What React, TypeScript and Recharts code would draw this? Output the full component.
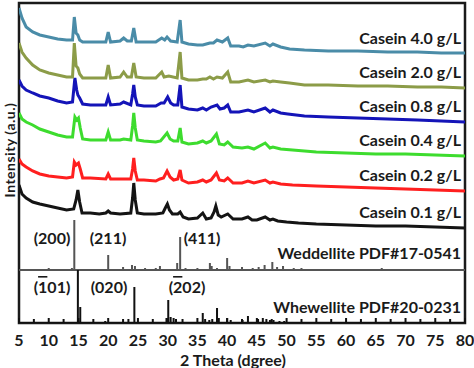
import { LineChart, Line, XAxis, YAxis, ReferenceArea, ReferenceLine } from "recharts"

// XRD patterns: [2theta, intensity above the pattern's own baseline]
const CASEIN_01: [number, number][] = [
  [5, 43], [5.5, 34], [6.2, 30], [7.3, 26], [8.5, 24], [10, 22], [11.5, 20], [13, 18], [14.2, 19], [14.6, 28],
  [14.9, 38], [15.2, 26], [15.6, 15], [17, 15], [18.5, 14], [19.6, 15], [20, 17], [20.4, 15], [22, 14], [23.8, 15],
  [24.1, 30], [24.3, 45], [24.55, 28], [24.9, 15], [26, 14], [28, 14], [29.2, 15], [29.6, 20], [29.95, 24], [30.3, 18],
  [30.8, 14], [31.7, 14], [32.1, 16], [32.6, 11], [33.5, 9], [35, 10], [35.9, 15], [36.5, 9], [37.3, 10], [37.8, 16],
  [38.1, 22], [38.5, 13], [39, 11], [40.1, 14], [41, 9], [42.5, 9], [43.5, 11], [44.2, 8], [45, 8], [46.4, 11],
  [47.2, 8], [47.7, 9], [48.5, 7], [50, 6], [52, 5], [55, 4], [60, 3], [65, 2], [70, 2], [75, 1], [80, 0],
]
const CASEIN_02: [number, number][] = [
  [5, 32], [5.5, 27], [6.2, 24], [7.3, 20], [8.5, 17], [10, 15], [11.5, 14], [13, 13], [14, 14], [14.3, 29],
  [14.6, 26], [15, 28], [15.3, 22], [15.7, 13], [17, 13], [19.6, 12], [20, 17], [20.4, 12], [22, 12], [23.8, 12],
  [24.1, 22], [24.3, 33], [24.55, 20], [24.9, 11], [26, 11], [28, 10], [28.7, 12], [29.3, 13], [29.9, 20], [30.4, 14],
  [31, 11], [31.7, 12], [32.1, 21], [32.4, 11], [33.5, 8], [35, 9], [35.9, 11], [36.5, 9], [37.3, 11], [38.2, 18],
  [38.7, 11], [39.5, 10], [40.1, 13], [41, 8], [42.5, 8], [43.5, 10], [44.5, 8], [46.4, 11], [47.2, 8], [47.7, 9],
  [49, 7], [51, 6], [55, 5], [60, 4], [65, 3], [70, 2], [75, 1], [80, 0],
]
const CASEIN_04: [number, number][] = [
  [5, 43], [5.5, 37], [6.2, 34], [7.3, 31], [8.5, 27], [10, 24], [11.5, 21], [13, 19], [14, 19], [14.4, 39],
  [14.7, 36], [15, 38], [15.3, 28], [15.7, 17], [17, 16], [19.6, 16], [20, 24], [20.4, 16], [22, 16], [22.6, 17],
  [23.8, 16], [24.1, 30], [24.3, 43], [24.55, 28], [24.9, 16], [26, 15], [28, 14], [28.8, 15], [29.9, 23], [30.4, 17],
  [31, 15], [31.7, 15], [32.1, 28], [32.4, 14], [33.5, 12], [35, 13], [35.9, 15], [36.5, 13], [37.3, 15], [38.2, 22],
  [38.7, 12], [39.5, 11], [40.1, 14], [41, 9], [42.5, 8], [43.5, 9], [44.5, 7], [46.4, 13], [47.2, 8], [47.7, 9],
  [49, 7], [51, 6], [55, 4], [60, 3], [65, 2], [70, 2], [75, 1], [80, 0],
]
const CASEIN_08: [number, number][] = [
  [5, 42], [5.5, 36], [6.2, 32], [7.3, 29], [8.5, 26], [10, 24], [11.5, 21], [13, 19], [14, 20], [14.4, 44],
  [14.7, 32], [14.9, 27], [15.2, 24], [15.7, 18], [17, 17], [19.6, 17], [20, 25], [20.4, 17], [22, 18], [22.6, 20],
  [23.8, 17], [24.1, 28], [24.3, 37], [24.55, 25], [24.9, 17], [26, 16], [28, 16], [28.9, 19], [29.4, 19], [30, 25],
  [30.5, 19], [31, 17], [31.7, 17], [32.1, 37], [32.4, 15], [33.5, 13], [35, 12], [35.9, 14], [36.5, 12], [37.3, 15],
  [38.3, 17], [38.8, 13], [39.5, 14], [40.1, 17], [40.6, 10], [42, 10], [43.5, 12], [44.5, 10], [46.4, 14], [47.2, 10],
  [47.7, 12], [49, 9], [50.2, 8], [53, 6], [57, 5], [62, 4], [67, 3], [72, 2], [76, 1], [80, 0],
]
const CASEIN_20: [number, number][] = [
  [5, 45], [5.5, 36], [6.2, 30], [7.3, 23], [8.5, 18], [10, 15], [11.5, 13], [13, 11], [14, 11], [14.3, 45],
  [14.6, 22], [14.9, 20], [15.2, 14], [15.7, 10], [17, 10], [19.6, 10], [20, 23], [20.4, 10], [22, 11], [22.6, 16],
  [23.2, 11], [23.9, 11], [24.3, 25], [24.7, 11], [26, 10], [28, 10], [29, 16], [29.4, 11], [30.2, 12], [31.6, 10],
  [32.1, 36], [32.4, 10], [33.5, 8], [35, 8], [35.9, 9], [36.5, 9], [37.1, 11], [37.7, 9], [38.3, 11], [39.2, 10],
  [40.1, 16], [40.6, 6], [42, 6], [43.5, 8], [44.5, 6], [46.4, 8], [47.2, 6], [47.7, 7], [49, 6], [50.5, 5],
  [53, 3], [57, 3], [62, 2], [67, 2], [72, 1], [76, 1], [80, 0],
]
const CASEIN_40: [number, number][] = [
  [5, 45], [5.5, 35], [6.2, 26], [7.3, 21], [8.5, 18], [10, 16], [11.5, 14], [13, 13], [14, 13], [14.3, 36],
  [14.6, 20], [14.9, 18], [15.2, 13], [15.7, 11], [17, 11], [19.6, 11], [20, 21], [20.4, 11], [22, 12], [22.6, 15],
  [23.2, 12], [23.9, 12], [24.3, 25], [24.7, 11], [26, 11], [28, 11], [29, 15], [29.5, 13], [29.9, 16], [30.5, 12],
  [31.6, 11], [32.1, 33], [32.4, 11], [33.5, 9], [35, 8], [35.9, 8], [36.5, 9], [37.1, 10], [37.7, 10], [38.3, 13],
  [39.2, 11], [40.1, 15], [40.6, 7], [42, 7], [42.7, 6], [43.5, 8], [44.5, 7], [46.4, 10], [47.2, 7], [47.7, 9],
  [49, 6], [50.5, 4], [53, 3], [57, 2], [62, 2], [67, 1], [72, 1], [76, 0], [80, 0],
]

// reference stick patterns: [2theta, relative height]
const WEDDELLITE: [number, number][] = [
  [10, 2], [13.9, 2], [14.3, 50], [20, 15], [22.5, 3], [24, 5], [24.5, 4], [26.2, 2], [28, 2], [28.7, 4],
  [31.6, 7], [32.1, 33], [33, 2], [35, 2], [37.1, 7], [37.4, 4], [38.3, 2], [40, 12], [40.4, 4], [42.5, 3],
  [44.3, 2], [45.3, 3], [46.3, 5], [47.6, 8], [48.4, 3], [49.4, 4], [51.2, 2], [52.5, 2], [55, 1], [57.5, 1],
  [60, 1], [63, 1], [66, 2], [69, 1], [72, 1], [75, 1], [78, 1],
]
const WHEWELLITE: [number, number][] = [
  [14.9, 53], [15.3, 16], [19.5, 2], [23.4, 4], [24.4, 36], [29.8, 5], [30.1, 23], [30.5, 6], [31, 5], [31.4, 4],
  [35.9, 10], [36.3, 4], [37, 3], [38.3, 15], [38.6, 5], [40, 5], [40.6, 3], [42.6, 3], [43.5, 7], [45.2, 4],
  [46, 5], [46.6, 4], [47.2, 3], [47.8, 3], [48.8, 2], [49.6, 2], [50.5, 1], [52, 1],
]

const SERIES_NAMES = ["Casein 0.1 g/L", "Casein 0.2 g/L", "Casein 0.4 g/L", "Casein 0.8 g/L", "Casein 2.0 g/L", "Casein 4.0 g/L"]
const X_TICKS = [5, 7.5, 10, 12.5, 15, 17.5, 20, 22.5, 25, 27.5, 30, 32.5, 35, 37.5, 40, 42.5, 45, 47.5, 50, 52.5, 55, 57.5, 60, 62.5, 65, 67.5, 70, 72.5, 75, 77.5, 80]

// layout: vertical stacking of the patterns (chart units ~ px)
const PATTERNS = [CASEIN_01, CASEIN_02, CASEIN_04, CASEIN_08, CASEIN_20, CASEIN_40]
const OFFSETS = [95, 132, 167, 201, 235, 270]
const COLORS = ["#141414", "#ff1f1f", "#3ddc2e", "#1414b8", "#8c9c48", "#4a8ca8"]
const WED_BASE = 53

const FONT = "Lato, 'Liberation Sans', sans-serif"
const INK = "#1a1a1a"

const toPoints = (arr: [number, number][], off: number) => arr.map(([x, y]) => ({ x, y: y + off }))
const toSticks = (arr: [number, number][], base: number) => {
  const pts = [{ x: 5, y: base }]
  arr.forEach(([x, h]) => {
    pts.push({ x, y: base }, { x, y: base + h }, { x, y: base })
  })
  pts.push({ x: 80, y: base })
  return pts
}

function Tick(props: any) {
  const { x, y, payload } = props
  const v = payload.value as number
  const major = v % 5 === 0
  return (
    <g>
      <line x1={x} x2={x} y1={y} y2={y - (major ? 5 : 4)} stroke="#111" strokeWidth={2} />
      {major && (
        <text x={x} y={y + 23} textAnchor="middle" fontFamily={FONT} fontWeight={700} fontSize={16} fill={INK}>
          {v}
        </text>
      )}
    </g>
  )
}

const labelStyle = { fontFamily: FONT, fontWeight: 700, fontSize: 16, fill: INK }

export default function App() {
  const labelY = [218, 181, 146, 112, 78, 44]
  return (
    <div style={{ position: "absolute", left: 0, top: 0, width: 474, height: 368, background: "#fff" }}>
      <LineChart width={474} height={368} margin={{ top: 3, right: 9, bottom: 15, left: 19 }}>
        <XAxis
          type="number"
          dataKey="x"
          domain={[5, 80]}
          ticks={X_TICKS}
          interval={0}
          height={30}
          axisLine={false}
          tickLine={false}
          tickSize={0}
          tickMargin={0}
          tick={<Tick />}
          allowDataOverflow
        />
        <YAxis type="number" domain={[0, 320]} hide allowDataOverflow />
        <ReferenceArea x1={5} x2={80} y1={0} y2={320} fill="none" stroke={INK} strokeWidth={2.5} />
        <ReferenceLine y={WED_BASE} stroke="#333" strokeWidth={2} />
        {PATTERNS.map((p, i) => (
          <Line
            key={SERIES_NAMES[i]}
            data={toPoints(p, OFFSETS[i])}
            dataKey="y"
            type="linear"
            stroke={COLORS[i]}
            strokeWidth={3}
            dot={false}
            activeDot={false}
            isAnimationActive={false}
          />
        ))}
        <Line data={toSticks(WEDDELLITE, WED_BASE)} dataKey="y" type="linear" stroke="#555" strokeWidth={2} dot={false} activeDot={false} isAnimationActive={false} />
        <Line data={toSticks(WHEWELLITE, 0)} dataKey="y" type="linear" stroke="#111" strokeWidth={2} dot={false} activeDot={false} isAnimationActive={false} />
      </LineChart>
      <svg width={474} height={368} style={{ position: "absolute", left: 0, top: 0, pointerEvents: "none" }}>
        {SERIES_NAMES.map((n, i) => (
          <text key={n} x={461} y={labelY[i]} textAnchor="end" style={labelStyle}>
            {n}
          </text>
        ))}
        <text x={461} y={259} textAnchor="end" style={labelStyle}>Weddellite PDF#17-0541</text>
        <text x={461} y={313} textAnchor="end" style={labelStyle}>Whewellite PDF#20-0231</text>
        <text x={52} y={244} textAnchor="middle" style={labelStyle}>(200)</text>
        <text x={108} y={244} textAnchor="middle" style={labelStyle}>(211)</text>
        <text x={202} y={244} textAnchor="middle" style={labelStyle}>(411)</text>
        <text x={52} y={293} textAnchor="middle" style={labelStyle}>
          (<tspan textDecoration="overline">1</tspan>01)
        </text>
        <text x={109} y={293} textAnchor="middle" style={labelStyle}>(020)</text>
        <text x={187} y={293} textAnchor="middle" style={labelStyle}>
          (<tspan textDecoration="overline">2</tspan>02)
        </text>
        <text x={233} y={366} textAnchor="middle" style={labelStyle}>2 Theta (dgree)</text>
        <text
          x={0}
          y={0}
          transform="translate(15 150) rotate(-90)"
          textAnchor="middle"
          style={{ ...labelStyle, fontSize: 14, letterSpacing: 0.5 }}
        >
          Intensity (a.u.)
        </text>
      </svg>
    </div>
  )
}
